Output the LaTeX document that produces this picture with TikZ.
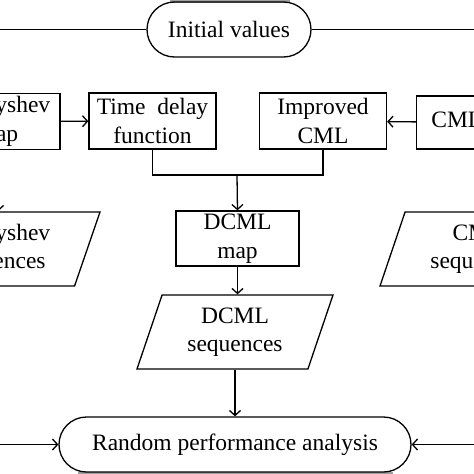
\documentclass[tikz,border=0pt]{standalone}
\usepackage{fontspec}
\setmainfont{Liberation Serif}
\usetikzlibrary{shapes.geometric,shapes.misc,arrows.meta}

\begin{document}
\begin{tikzpicture}[
        x=1pt, y=-1pt,
        every node/.style={font=\fontsize{23.5}{28.5}\selectfont, align=center, line width=1.3pt},
        box/.style={draw, rectangle, minimum width=127pt, minimum height=56pt, inner sep=2pt},
        term/.style={draw, rounded rectangle, minimum height=55pt, inner sep=2pt},
        io/.style={draw, trapezium, trapezium left angle=64.7, trapezium right angle=115.3,
            trapezium stretches body, minimum width=196pt, minimum height=74pt, inner sep=2pt},
        flow/.style={draw, line width=1.3pt, -{Straight Barb[length=5pt,width=11pt]}},
        link/.style={draw, line width=1.3pt},
    ]
    \useasboundingbox (0,0) rectangle (474,474);
    \clip (0,0) rectangle (474,474);

    % edge strips of the scan
    \fill[gray!75] (170,0) rectangle (290,3);
    \fill[gray!75] (78,472) rectangle (393,474);

    \node[term, minimum width=168pt](init) at (229,29.5){Initial values};

    \node[box, minimum width=124pt](chebmap) at (-2,121.5){Chebyshev\\map};
    \node[box](tdf) at (152.5,121){Time\enspace delay\\function};
    \node[box](icml) at (323,121){Improved\\CML};
    \node[box, minimum height=53pt](cmlmap) at (480,122.5){CML map};

    \node[box, minimum width=123pt, minimum height=55pt](dmap) at (237.5,238.5){DCML\\map};

    \node[io, minimum width=204pt](chebseq) at (-2,249){Chebyshev\\sequences};
    \node[io](dseq) at (235,332){DCML\\sequences};
    \node[io](cmlseq) at (478,249){CML\\sequences};

    \node[term, minimum width=356pt](rand) at (235,444.5){Random performance analysis};

    \coordinate (join) at (237,175);
    \coordinate (lout) at (-95,0);
    \coordinate (rout) at (575,0);

    % top feed
    \draw[flow] (init.west) -- (init.west -| lout) |- (chebmap.west);
    \draw[flow] (init.east) -- (init.east -| rout) |- (cmlmap.east);

    % maps into the middle pair
    \draw[flow] (chebmap) -- (tdf);
    \draw[flow] (cmlmap) -- (icml);
    \draw[link] (tdf.south) -- (tdf.south |- join) -- (icml.south |- join) -- (icml.south);
    \draw[flow] (join) -- (dmap.north);
    \draw[flow] (dmap.south) -- (dmap.south |- dseq.north);
    \draw[flow] (dseq.south) -- (dseq.south |- rand.north);

    % side columns
    \draw[flow] (chebmap.south) -- (chebmap.south |- chebseq.north);
    \draw[flow] (cmlmap.south) -- (cmlmap.south |- cmlseq.north);
    \draw[flow] (chebseq) -| (lout) |- (rand.west);
    \draw[flow] (cmlseq) -| (rout) |- (rand.east);
\end{tikzpicture}
\end{document}
